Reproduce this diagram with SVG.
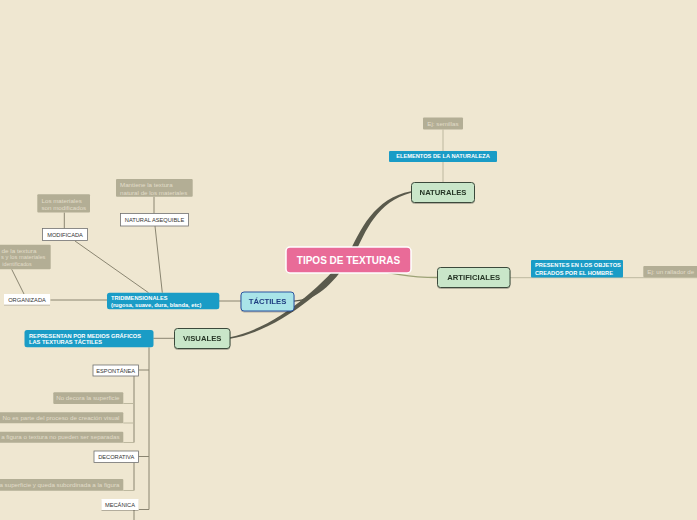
<svg xmlns="http://www.w3.org/2000/svg" width="697" height="520" viewBox="0 0 697 520">
<defs>
<filter id="sh" x="-10%" y="-20%" width="120%" height="160%"><feDropShadow dx="0" dy="1" stdDeviation="0.4" flood-color="#000" flood-opacity="0.25"/></filter>
<style>
text{font-family:"Liberation Sans",Arial,sans-serif}
.bg{fill:#efe7d1}
.ln{fill:none;stroke:#8a8571;stroke-width:1}
.lt{fill:none;stroke:#bdb89f;stroke-width:1}
.br{fill:#5a5a4c}
.gray rect{fill:#b3ae95}
.gray text{fill:#e2ddc9;font-size:6.2px}
.white rect{fill:#fff;stroke:#707070;stroke-width:0.8}
.white text{fill:#333;font-size:5.7px;text-anchor:middle}
.blue rect{fill:#1a9cc6}
.blue text{fill:#fff;font-size:5.7px;font-weight:bold}
.green rect{fill:#c9e6c9;stroke:#3b4a3b;stroke-width:1}
.green text{fill:#263626;font-size:7.7px;font-weight:bold;text-anchor:middle}
</style>
</defs>
<rect class="bg" x="0" y="0" width="697" height="520"/>
<g id="connectors">
<path class="br" d="M352.5,259.2 C364.5,233.2 376,202 411,192.8 L411,191.2 C374,198 359.5,230.8 347.5,256.8 Z"/>
<path class="br" d="M350.2,259.8 C324,291.5 276.5,331.3 230.1,338.8 L229.9,337.2 C273.5,328.7 320,288.5 345.8,256.2 Z"/>
<path class="br" d="M349.7,259.1 C331.5,286 315.5,300.8 294,301.8 L294,300.4 C314.5,299.2 328.5,284 346.3,256.9 Z"/>
<path d="M360,265 C390,274 410,277.5 437.5,277.5" fill="none" stroke="#9ca276" stroke-width="1.5"/>
<path class="lt" d="M443,129.5 V151 M443,162 V182.5"/>
<path class="lt" d="M510,277.7 H697"/>
<path class="ln" d="M219,301 H241"/>
<path class="ln" d="M107,300 H50.5"/>
<path class="ln" d="M75,241 L148.5,292.7"/>
<path class="ln" d="M155,226 L162.3,292.7"/>
<path class="ln" d="M64.3,212.5 V228.5"/>
<path class="ln" d="M154,196.7 V213.5"/>
<path class="ln" d="M11.7,269.3 L24,294"/>
<path class="ln" d="M174.5,338.3 H153.3"/>
<path class="ln" d="M149,347.3 V509.5 M138.5,370 H149 M138.5,456.5 H149 M138.7,509.5 H149"/>
<path class="ln" d="M134,376 V442.5 M134,462.5 V490.5 M134,510 V520"/>
<path class="lt" d="M123.3,403.5 H134 M123.3,423 H134 M123.3,442.5 H134 M123.3,490.5 H134"/>
</g>
<g id="central">
<rect x="286" y="247" width="125" height="26" rx="4" fill="#e96b98" stroke="#ffffff" stroke-width="1.5"/>
<text x="348.5" y="264" fill="#fff" font-size="10" font-weight="bold" text-anchor="middle">TIPOS DE TEXTURAS</text>
</g>
<g id="naturales" class="green" filter="url(#sh)">
<rect x="411.5" y="182.5" width="63" height="20" rx="3"/>
<text x="443" y="195.3">NATURALES</text>
</g>
<g id="elementos" class="blue">
<rect x="389" y="151" width="108" height="11" rx="1"/>
<text x="443" y="158.3" text-anchor="middle" font-size="6px">ELEMENTOS DE LA NATURALEZA</text>
</g>
<g id="semillas" class="gray">
<rect x="423" y="117.5" width="40" height="12" rx="1"/>
<text x="443" y="125.6" text-anchor="middle">Ej: semillas</text>
</g>
<g id="artificiales" class="green" filter="url(#sh)">
<rect x="437.5" y="267.5" width="72.5" height="20" rx="3"/>
<text x="473.7" y="280.3">ARTIFICIALES</text>
</g>
<g id="presentes" class="blue">
<rect x="531" y="260" width="92" height="17.5" rx="1"/>
<text x="535" y="267" font-weight="normal" font-size="5.5px">PRESENTES EN LOS OBJETOS</text>
<text x="535" y="274.6" font-weight="normal" font-size="5.5px">CREADOS POR EL HOMBRE</text>
</g>
<g id="rallador" class="gray">
<rect x="643.3" y="266" width="60" height="11.3" rx="1"/>
<text x="647.3" y="273.8">Ej: un rallador de</text>
</g>
<g id="tactiles" filter="url(#sh)">
<rect x="241" y="292" width="53" height="19" rx="3" fill="#a9e4e8" stroke="#2d55a0" stroke-width="1"/>
<text x="267.5" y="304.3" fill="#1e3c80" font-size="7.7" font-weight="bold" text-anchor="middle">TÁCTILES</text>
</g>
<g id="tridimensionales" class="blue">
<rect x="107" y="292.7" width="112.3" height="16.6" rx="2.5"/>
<text x="111" y="300.3">TRIDIMENSIONALES</text>
<text x="111" y="307">(rugosa, suave, dura, blanda, etc)</text>
</g>
<g id="organizada" class="white">
<rect x="4" y="294" width="46" height="10.5" style="stroke:none" filter="url(#sh)"/>
<text x="27" y="301.5">ORGANIZADA</text>
</g>
<g id="organizada-nota" class="gray">
<rect x="-10" y="244.7" width="60.7" height="24.6" rx="1"/>
<text x="1.5" y="252.8" textLength="35" lengthAdjust="spacingAndGlyphs">de la textura</text>
<text x="1" y="259.4" textLength="44.5" lengthAdjust="spacingAndGlyphs">s y los materiales</text>
<text x="2.3" y="266" textLength="29.4" lengthAdjust="spacingAndGlyphs">identificados</text>
</g>
<g id="modificada" class="white">
<rect x="42.5" y="228.5" width="45" height="12"/>
<text x="65" y="236.6">MODIFICADA</text>
</g>
<g id="modificada-nota" class="gray">
<rect x="37.3" y="194.3" width="52.7" height="18.2" rx="1"/>
<text x="41.5" y="202.5">Los materiales</text>
<text x="41.5" y="210">son modificados</text>
</g>
<g id="natural-asequible" class="white">
<rect x="120.5" y="213.5" width="68" height="12.5"/>
<text x="154.5" y="221.8">NATURAL ASEQUIBLE</text>
</g>
<g id="natural-nota" class="gray">
<rect x="116" y="179" width="76.7" height="17.7" rx="1"/>
<text x="120" y="187">Mantiene la textura</text>
<text x="120" y="194.7">natural de los materiales</text>
</g>
<g id="visuales" class="green" filter="url(#sh)">
<rect x="174.5" y="328.5" width="55.5" height="20" rx="3"/>
<text x="202.2" y="341.3">VISUALES</text>
</g>
<g id="representan" class="blue">
<rect x="24.5" y="330" width="129" height="17.3" rx="2.5"/>
<text x="29" y="337.7">REPRESENTAN POR MEDIOS GRÁFICOS</text>
<text x="29" y="343.9">LAS TEXTURAS TÁCTILES</text>
</g>
<g id="espontanea" class="white">
<rect x="93" y="365" width="45.5" height="11"/>
<text x="115.7" y="372.6">ESPONTÁNEA</text>
</g>
<g id="no-decora" class="gray">
<rect x="53.3" y="392.3" width="70" height="11.7" rx="1"/>
<text x="119.5" y="400.3" text-anchor="end">No decora la superficie</text>
</g>
<g id="no-es-parte" class="gray">
<rect x="-10" y="412.3" width="133.3" height="11" rx="1"/>
<text x="119.5" y="420" text-anchor="end">No es parte del proceso de creación visual</text>
</g>
<g id="separadas" class="gray">
<rect x="-10" y="431.7" width="133.3" height="11" rx="1"/>
<text x="119.5" y="439.4" text-anchor="end">a figura o textura no pueden ser separadas</text>
</g>
<g id="decorativa" class="white">
<rect x="94" y="451" width="44.5" height="11.5"/>
<text x="116.2" y="458.9">DECORATIVA</text>
</g>
<g id="subordinada" class="gray">
<rect x="-10" y="479" width="133.3" height="11.7" rx="1"/>
<text x="119.5" y="487" text-anchor="end">a superficie y queda subordinada a la figura</text>
</g>
<g id="mecanica" class="white">
<rect x="101.5" y="499" width="37" height="11" style="stroke:none" filter="url(#sh)"/>
<text x="120" y="506.6">MECÁNICA</text>
</g>
</svg>
